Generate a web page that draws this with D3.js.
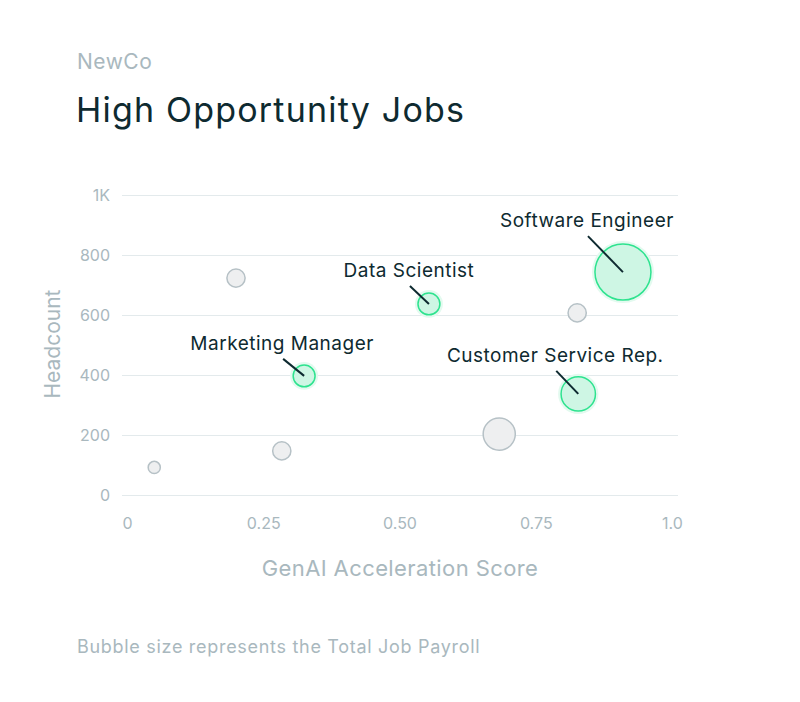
<!DOCTYPE html>
<html lang="en">
<head>
<meta charset="UTF-8">
<title>High Opportunity Jobs</title>
<script src="https://d3js.org/d3.v7.min.js"></script>
<style>
  body { margin: 0; background: #fff; }
  svg text { font-family: Inter, "Noto Sans", sans-serif; }
</style>
</head>
<body>
<svg width="800" height="702"></svg>
<script>
// data
var jobs      = ["", "", "", "Marketing Manager", "Data Scientist", "", "", "Customer Service Rep.", "Software Engineer"];
var scores    = [0.05, 0.20, 0.284, 0.325, 0.554, 0.683, 0.826, 0.828, 0.91];
var headcount = [92, 723, 147, 397, 637, 203, 607, 337, 743];
var payroll   = [4, 9, 9, 13, 13, 28, 9, 32, 85];
var highlight = [false, false, false, true, true, false, false, true, true];
// label offsets from bubble centre (dx, dy)
var labelDx   = [0, 0, 0, -22, -20, 0, 0, -23, -36];
var labelDy   = [0, 0, 0, -33, -34, 0, 0, -39, -52];

var yTicks = [0, 200, 400, 600, 800, 1000];
var xTicks = [0, 0.25, 0.5, 0.75, 1.0];
var xTickLabels = ["0", "0.25", "0.50", "0.75", "1.0"];

var svg = d3.select("svg");
var grey = "#a9b8be", dark = "#0e2a30";

var x = d3.scaleLinear().domain([0, 1]).range([127, 672]);
var y = d3.scaleLinear().domain([0, 1000]).range([495, 195]);
var r = d3.scaleSqrt().domain([0, 85]).range([0, 28]);

svg.append("text").attr("x", 77).attr("y", 69)
   .attr("font-size", 21).attr("letter-spacing", 0.5).attr("fill", grey).text("NewCo");
svg.append("text").attr("x", 76).attr("y", 122)
   .attr("font-size", 34).attr("letter-spacing", 1.2).attr("fill", dark).text("High Opportunity Jobs");

// gridlines + y tick labels
var yAxis = d3.axisLeft(y).tickValues(yTicks)
  .tickFormat(function(d){ return d === 1000 ? "1K" : d; })
  .tickSize(-(678 - 122)).tickPadding(12);
var gy = svg.append("g").attr("transform", "translate(122,0)").call(yAxis);
gy.select(".domain").remove();
gy.selectAll("line").attr("stroke", "#e3eaec").attr("stroke-width", 1.2);
gy.selectAll("text").attr("fill", grey).attr("font-size", 16)
  .style("font-family", "Inter, sans-serif").attr("dy", "0.35em");

var xAxis = d3.axisBottom(x).tickValues(xTicks)
  .tickFormat(function(d, i){ return xTickLabels[i]; })
  .tickSize(0).tickPadding(0);
var gx = svg.append("g").attr("transform", "translate(0,518)").call(xAxis);
gx.select(".domain").remove();
gx.selectAll("text").attr("fill", grey).attr("font-size", 16)
  .style("font-family", "Inter, sans-serif");

svg.append("text").attr("transform", "translate(60,344) rotate(-90)")
   .attr("text-anchor", "middle").attr("font-size", 21).attr("fill", grey).text("Headcount");
svg.append("text").attr("x", 400).attr("y", 576)
   .attr("text-anchor", "middle").attr("font-size", 22).attr("letter-spacing", 0.4)
   .attr("fill", grey).text("GenAI Acceleration Score");

var idx = d3.range(scores.length);

// halos behind highlighted bubbles
svg.selectAll("circle.halo").data(idx.filter(function(i){ return highlight[i]; })).enter()
  .append("circle").attr("class", "halo")
  .attr("cx", function(i){ return x(scores[i]); })
  .attr("cy", function(i){ return y(headcount[i]); })
  .attr("r", function(i){ return r(payroll[i]) + 3; })
  .attr("fill", "#e3faef");

svg.selectAll("circle.bubble").data(idx).enter()
  .append("circle").attr("class", "bubble")
  .attr("cx", function(i){ return x(scores[i]); })
  .attr("cy", function(i){ return y(headcount[i]); })
  .attr("r", function(i){ return r(payroll[i]); })
  .attr("fill", function(i){ return highlight[i] ? "#cef6e4" : "#eeeff0"; })
  .attr("stroke", function(i){ return highlight[i] ? "#2ee38f" : "#b6c1c6"; })
  .attr("stroke-width", 1.5);

var labelled = idx.filter(function(i){ return jobs[i] !== ""; });

svg.selectAll("line.leader").data(labelled).enter()
  .append("line").attr("class", "leader")
  .attr("x1", function(i){ return x(scores[i]) + labelDx[i] + 1; })
  .attr("y1", function(i){ return y(headcount[i]) + labelDy[i] + 16; })
  .attr("x2", function(i){ return x(scores[i]); })
  .attr("y2", function(i){ return y(headcount[i]); })
  .attr("stroke", dark).attr("stroke-width", 2);

svg.selectAll("text.label").data(labelled).enter()
  .append("text").attr("class", "label")
  .attr("x", function(i){ return x(scores[i]) + labelDx[i]; })
  .attr("y", function(i){ return y(headcount[i]) + labelDy[i]; })
  .attr("dy", "0.35em").attr("text-anchor", "middle")
  .attr("font-size", 19).attr("letter-spacing", 0.5).attr("fill", dark)
  .text(function(i){ return jobs[i]; });

svg.append("text").attr("x", 77).attr("y", 653)
   .attr("font-size", 18).attr("letter-spacing", 0.7).attr("fill", grey)
   .text("Bubble size represents the Total Job Payroll");
</script>
</body>
</html>
